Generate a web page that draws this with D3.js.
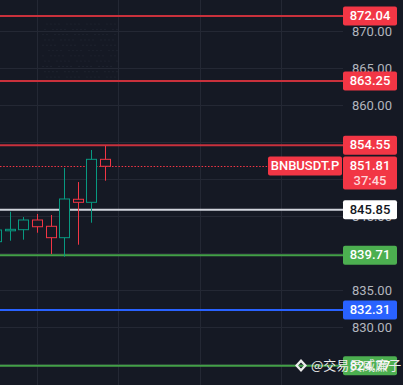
<!DOCTYPE html>
<html><head><meta charset="utf-8">
<script src="https://cdn.jsdelivr.net/npm/d3@7"></script>
<style>
html,body{margin:0;padding:0;background:#151924;overflow:hidden}
svg{display:block}
</style></head>
<body><svg id="c" width="403" height="385"></svg>
<script>
// ---- data ----
const opens  = [841.53, 843.00, 843.15, 844.46, 843.61, 842.07, 847.26, 846.85, 852.66];
const highs  = [844.20, 845.58, 844.86, 845.27, 845.14, 851.49, 849.59, 853.92, 854.50];
const lows   = [840.60, 841.66, 841.80, 842.74, 839.86, 839.50, 841.12, 844.09, 849.77];
const closes = [843.11, 843.20, 844.46, 843.55, 842.07, 847.30, 846.85, 852.66, 851.72];
const levelValues = [872.04, 863.25, 854.55, 845.85, 839.71, 832.31, 824.77];
const levelKinds  = ["red", "red", "red", "white", "green", "blue", "green"];
const yTicks = [825, 830, 835, 840, 845, 850, 855, 860, 865, 870];
const gridBars = [3, 9, 15, 21];
const symbol = "BNBUSDT.P";
const lastPrice = 851.81;
const countdown = "37:45";
const watermark = "@交易员威廉子";

// ---- styles ----
const lineColor = {red:"#c9313c", white:"#d1d4dc", green:"#43a047", blue:"#2962ff"};
const boxColor  = {red:"#f23645", white:"#ffffff", green:"#4caf50", blue:"#2962ff"};
const boxText   = {red:"#ffffff", white:"#131722", green:"#ffffff", blue:"#ffffff"};
const UP = "#089981", DOWN = "#f23645";
const W = 403, H = 385, plotR = 343;
const font = "Roboto, 'Noto Sans', sans-serif";

const svg = d3.select("#c");
svg.append("rect").attr("width", W).attr("height", H).attr("fill", "#151924");

const y = d3.scaleLinear().domain([830, 870]).range([327, 31]);
const x = d3.scaleLinear().domain([0, 8]).range([-3.7, 104.8]);

// grid
const g = svg.append("g");
g.selectAll("line.h").data(yTicks).join("line")
  .attr("x1", 0).attr("x2", plotR)
  .attr("y1", d => Math.round(y(d)) + 0.5).attr("y2", d => Math.round(y(d)) + 0.5)
  .attr("stroke", "#242834").attr("stroke-width", 1);
g.selectAll("line.v").data(gridBars).join("line")
  .attr("x1", d => Math.round(x(d)) + 0.5).attr("x2", d => Math.round(x(d)) + 0.5)
  .attr("y1", 0).attr("y2", H)
  .attr("stroke", "#242834").attr("stroke-width", 1);

// faint dotted logo watermark
const dots = svg.append("g").attr("fill", "#252a36");
for (let r = 0; r < 11; r++) {
  for (let c = 0; c < 19; c++) {
    if ((r * 7 + c * 3) % 5 === 0) continue;
    dots.append("circle").attr("cx", 43 + c * 4 + (r % 2) * 2).attr("cy", 24 + r * 5.3).attr("r", 0.6);
  }
}

// y axis tick labels
const axis = d3.axisRight(y).tickValues(yTicks).tickFormat(d3.format(".2f")).tickSize(0).tickPadding(9);
const ax = svg.append("g").attr("transform", `translate(${plotR},0)`).call(axis);
ax.select(".domain").remove();
ax.selectAll("text").attr("fill", "#b2b5be").style("font-family", font).style("font-size", "13px");

// horizontal levels
const idx = d3.range(levelValues.length);
svg.append("g").selectAll("line").data(idx).join("line")
  .attr("x1", 0).attr("x2", plotR)
  .attr("y1", i => y(levelValues[i])).attr("y2", i => y(levelValues[i]))
  .attr("stroke", i => lineColor[levelKinds[i]]).attr("stroke-width", 2);

// last price dotted line
svg.append("line").attr("x1", 0).attr("x2", 268)
  .attr("y1", Math.round(y(lastPrice)) + 0.5).attr("y2", Math.round(y(lastPrice)) + 0.5)
  .attr("stroke", DOWN).attr("stroke-width", 1.2).attr("stroke-dasharray", "1.5,1.7");

// candles
const ci = d3.range(opens.length);
const cg = svg.append("g");
cg.selectAll("line").data(ci).join("line")
  .attr("x1", i => Math.round(x(i)) + 0.5).attr("x2", i => Math.round(x(i)) + 0.5)
  .attr("y1", i => y(highs[i])).attr("y2", i => y(lows[i]))
  .attr("stroke", i => closes[i] >= opens[i] ? UP : DOWN).attr("stroke-width", 1);
cg.selectAll("rect").data(ci).join("rect")
  .attr("x", i => Math.round(x(i)) - 4.5).attr("width", 10)
  .attr("y", i => y(Math.max(opens[i], closes[i])))
  .attr("height", i => Math.max(0.5, Math.abs(y(opens[i]) - y(closes[i]))))
  .attr("fill", "#151924")
  .attr("stroke", i => closes[i] >= opens[i] ? UP : DOWN).attr("stroke-width", 1);

// level labels
const lg = svg.append("g");
idx.forEach(i => {
  const cy = y(levelValues[i]);
  lg.append("rect").attr("x", plotR).attr("y", cy - 9.5).attr("width", 54).attr("height", 19)
    .attr("rx", 2).attr("fill", boxColor[levelKinds[i]]);
  lg.append("text").attr("x", plotR + 27).attr("y", cy + 0.5)
    .attr("text-anchor", "middle").attr("dominant-baseline", "middle")
    .attr("fill", boxText[levelKinds[i]])
    .style("font-family", font).style("font-size", "13px").style("font-weight", 500)
    .text(d3.format(".2f")(levelValues[i]));
});

// last price label
const py = y(lastPrice);
lg.append("rect").attr("x", 268).attr("y", py - 9).attr("width", 74).attr("height", 19)
  .attr("rx", 2).attr("fill", DOWN);
lg.append("text").attr("x", 305).attr("y", py + 1)
  .attr("text-anchor", "middle").attr("dominant-baseline", "middle").attr("fill", "#fff")
  .style("font-family", font).style("font-size", "13px").style("font-weight", 500).text(symbol);
lg.append("rect").attr("x", plotR).attr("y", py - 9).attr("width", 54).attr("height", 33)
  .attr("rx", 2).attr("fill", DOWN);
lg.append("text").attr("x", plotR + 27).attr("y", py + 1)
  .attr("text-anchor", "middle").attr("dominant-baseline", "middle").attr("fill", "#fff")
  .style("font-family", font).style("font-size", "13px").style("font-weight", 500).text(d3.format(".2f")(lastPrice));
lg.append("text").attr("x", plotR + 27).attr("y", py + 16)
  .attr("text-anchor", "middle").attr("dominant-baseline", "middle").attr("fill", "#ffd6da")
  .style("font-family", font).style("font-size", "13px").style("font-weight", 500).text(countdown);

// bottom-right watermark (overlays the bottom level label, as in the reference)
const wm = svg.append("g");
wm.append("path").attr("d", "M301,359 l6,6.5 l-6,6.5 l-6,-6.5 z M301,362.5 l3,3 l-3,3 l-3,-3 z")
  .attr("fill", "#ececec").attr("fill-rule", "evenodd");
wm.append("text").attr("x", 311).attr("y", 366).attr("dominant-baseline", "middle")
  .attr("fill", "#ececec").style("font-family", "'Noto Sans CJK SC', sans-serif").style("font-size", "13px")
  .text(watermark);
</script>
</body></html>
